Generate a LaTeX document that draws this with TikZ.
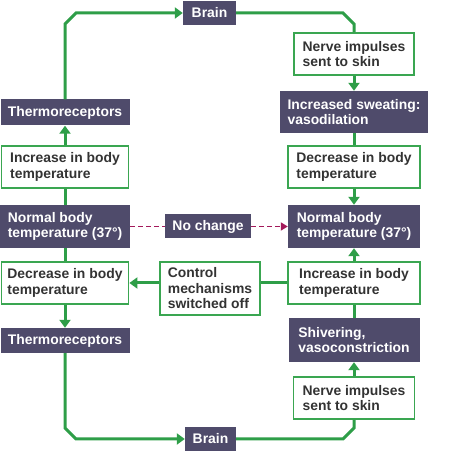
\documentclass[tikz,border=0pt]{standalone}
\usepackage{fontspec}
\setmainfont{Liberation Sans}
\usepackage{tikz}
\usetikzlibrary{shapes, arrows.meta, positioning, calc}
\definecolor{boxdark}{HTML}{4F4B6B}
\definecolor{boxgreen}{HTML}{3AA651}
\definecolor{linegreen}{HTML}{2E9E48}
\definecolor{textgrey}{HTML}{333333}
\definecolor{nochg}{HTML}{A3195B}
\tikzstyle{darkbox} = [rectangle, fill=boxdark, text=white, inner xsep=2pt, align=left, minimum height=42pt, font=\fontsize{13.9}{15.5}\selectfont\bfseries]
\tikzstyle{greenbox} = [rectangle, draw=boxgreen, line width=1.8pt, fill=white, text=textgrey, inner xsep=2pt, align=left, minimum height=42pt, font=\fontsize{13.9}{15.5}\selectfont\bfseries]
\tikzstyle{gline} = [draw=linegreen, line width=3pt]
\tikzstyle{garrow} = [draw=linegreen, line width=3pt, -{Triangle[width=11pt,length=8pt]}]
\tikzstyle{dline} = [draw=nochg, line width=1.8pt, dash pattern=on 4.5pt off 3.5pt]
\tikzstyle{darrow} = [draw=nochg, line width=1.8pt, dash pattern=on 4.5pt off 3.5pt, -{Triangle[width=8pt,length=7pt]}]

\begin{document}
\begin{tikzpicture}[node distance=57pt, x=1pt, y=1pt]
\useasboundingbox (0,0) rectangle (464,-454);
% left column
\node (t1) [darkbox, minimum width=129pt, minimum height=26pt] at (65,-112.5) {Thermoreceptors};
\node (i1) [greenbox, minimum width=127pt, below of=t1, yshift=2.5pt] {Increase in body\\temperature};
\node (n1) [darkbox, minimum width=130pt, minimum height=43pt, below of=i1, yshift=-2.5pt] {Normal body\\temperature (37°)};
\node (d1) [greenbox, minimum width=127pt, below of=n1, yshift=0.5pt] {Decrease in body\\temperature};
\node (t2) [darkbox, minimum width=129pt, minimum height=25pt, below of=d1, yshift=-0.5pt] {Thermoreceptors};
% right column
\node (r1) [greenbox, minimum width=120pt] at (354,-54) {Nerve impulses\\sent to skin};
\node (r2) [darkbox, minimum width=148pt, below of=r1, yshift=-1pt] {Increased sweating:\\vasodilation};
\node (r3) [greenbox, minimum width=132pt, below of=r2, yshift=2pt] {Decrease in body\\temperature};
\node (r4) [darkbox, minimum width=132pt, minimum height=43pt, below of=r3, yshift=-2.5pt] {Normal body\\temperature (37°)};
\node (r5) [greenbox, minimum width=132pt, below of=r4, yshift=0.5pt] {Increase in body\\temperature};
\node (r6) [darkbox, minimum width=131pt, minimum height=44pt, below of=r5] {Shivering,\\vasoconstriction};
\node (r7) [greenbox, minimum width=121pt, below of=r6, yshift=-1pt] {Nerve impulses\\sent to skin};
% middle
\node (b1) [darkbox, minimum width=53pt, minimum height=24pt] at (209.5,-13) {Brain};
\node (b2) [darkbox, minimum width=51pt, minimum height=24pt] at (210.5,-439) {Brain};
\node (c1) [darkbox, minimum width=86pt, minimum height=24pt] at (208,-226.5) {No change};
\node (c2) [greenbox, minimum width=100pt, minimum height=53pt] at (210,-288.5) {Control\\mechanisms\\switched off};

\draw [garrow] (t1.north) -- ($(t1.north |- b1.west)+(0,-11pt)$) -- ($(t1.north |- b1.west)+(11pt,0)$) -- (b1.west);
\draw [gline] (b1.east) -- ($(r1.north |- b1.east)+(-11pt,0)$) -- ($(r1.north |- b1.east)+(0,-11pt)$) -- (r1.north);
\draw [garrow] (t2.south) -- ($(t2.south |- b2.west)+(0,11pt)$) -- ($(t2.south |- b2.west)+(11pt,0)$) -- (b2.west);
\draw [gline] (b2.east) -- ($(r7.south |- b2.east)+(-11pt,0)$) -- ($(r7.south |- b2.east)+(0,11pt)$) -- (r7.south);
\draw [garrow] (i1) -- (t1);
\draw [gline] (n1) -- (i1);
\draw [gline] (n1) -- (d1);
\draw [garrow] (d1) -- (t2);
\draw [garrow] (r1) -- (r2);
\draw [gline] (r2) -- (r3);
\draw [garrow] (r3) -- (r4);
\draw [garrow] (r7) -- (r6);
\draw [gline] (r6) -- (r5);
\draw [garrow] (r5) -- (r4);
\draw [gline] (r5.west) -- (r5.west -| c2.east);
\draw [garrow] (d1.east -| c2.west) -- (d1.east);
\draw [dline] (n1) -- (c1);
\draw [darrow] (c1) -- (r4);
\end{tikzpicture}
\end{document}
